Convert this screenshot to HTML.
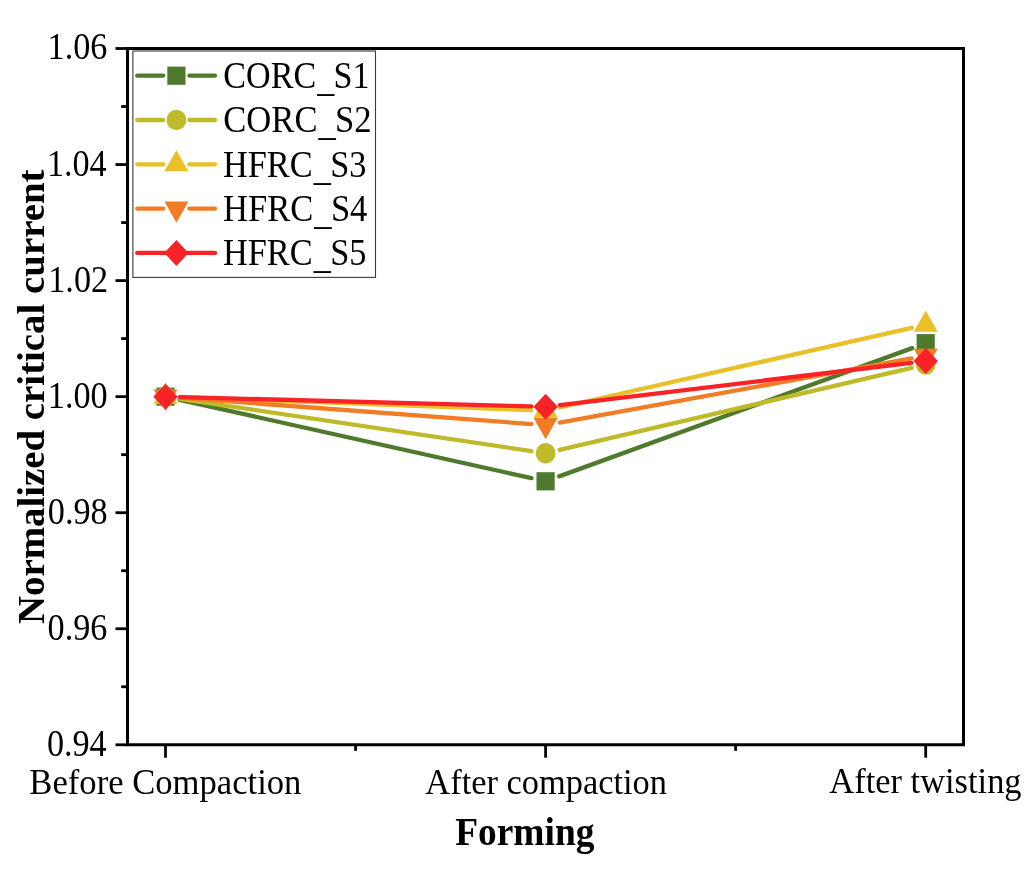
<!DOCTYPE html>
<html><head><meta charset="utf-8"><style>
html,body{margin:0;padding:0;background:#fff;}
svg{display:block;will-change:transform;}
text{font-family:"Liberation Serif",serif;fill:#000;}
</style></head><body>
<svg width="1025" height="881" viewBox="0 0 1025 881">
<rect width="1025" height="881" fill="#fff"/>
<g><line x1="179.56" y1="399.78" x2="531.54" y2="478.17" stroke="#4f7a2d" stroke-width="4.3" stroke-linecap="round"/>
<line x1="559.13" y1="476.38" x2="912.17" y2="348.12" stroke="#4f7a2d" stroke-width="4.3" stroke-linecap="round"/>
<rect x="156.40" y="387.55" width="18.2" height="18.2" fill="#4f7a2d"/>
<rect x="536.50" y="472.20" width="18.2" height="18.2" fill="#4f7a2d"/>
<rect x="916.60" y="334.10" width="18.2" height="18.2" fill="#4f7a2d"/>
<line x1="179.74" y1="398.77" x2="531.36" y2="451.08" stroke="#bfba29" stroke-width="4.3" stroke-linecap="round"/>
<line x1="559.62" y1="449.93" x2="911.68" y2="367.87" stroke="#bfba29" stroke-width="4.3" stroke-linecap="round"/>
<ellipse cx="165.50" cy="396.65" rx="9.9" ry="10.2" fill="#bfba29"/>
<ellipse cx="545.60" cy="453.20" rx="9.9" ry="10.2" fill="#bfba29"/>
<ellipse cx="925.70" cy="364.60" rx="9.9" ry="10.2" fill="#bfba29"/>
<line x1="179.89" y1="397.18" x2="531.21" y2="410.17" stroke="#eac028" stroke-width="4.3" stroke-linecap="round"/>
<line x1="559.64" y1="407.52" x2="911.66" y2="327.78" stroke="#eac028" stroke-width="4.3" stroke-linecap="round"/>
<path d="M165.50,382.52 L177.50,403.72 L153.50,403.72Z" fill="#eac028"/>
<path d="M545.60,396.57 L557.60,417.77 L533.60,417.77Z" fill="#eac028"/>
<path d="M925.70,310.47 L937.70,331.67 L913.70,331.67Z" fill="#eac028"/>
<line x1="179.86" y1="397.72" x2="531.24" y2="424.03" stroke="#f27c26" stroke-width="4.3" stroke-linecap="round"/>
<line x1="559.77" y1="422.52" x2="911.53" y2="358.48" stroke="#f27c26" stroke-width="4.3" stroke-linecap="round"/>
<path d="M165.50,410.78 L177.50,389.58 L153.50,389.58Z" fill="#f27c26"/>
<path d="M545.60,439.23 L557.60,418.03 L533.60,418.03Z" fill="#f27c26"/>
<path d="M925.70,370.03 L937.70,348.83 L913.70,348.83Z" fill="#f27c26"/>
<line x1="179.89" y1="397.03" x2="531.21" y2="406.42" stroke="#f82326" stroke-width="4.3" stroke-linecap="round"/>
<line x1="559.90" y1="405.08" x2="911.40" y2="362.82" stroke="#f82326" stroke-width="4.3" stroke-linecap="round"/>
<path d="M165.50,383.65 L177.70,396.65 L165.50,409.65 L153.30,396.65Z" fill="#f82326"/>
<path d="M545.60,393.80 L557.80,406.80 L545.60,419.80 L533.40,406.80Z" fill="#f82326"/>
<path d="M925.70,348.10 L937.90,361.10 L925.70,374.10 L913.50,361.10Z" fill="#f82326"/></g>
<g><rect x="132.9" y="51.0" width="242.6" height="226.4" fill="#fff" stroke="#3a3a3a" stroke-width="1.1"/>
<line x1="137.25" y1="75.70" x2="163.20" y2="75.70" stroke="#4f7a2d" stroke-width="4.3" stroke-linecap="round"/>
<line x1="189.40" y1="75.70" x2="214.95" y2="75.70" stroke="#4f7a2d" stroke-width="4.3" stroke-linecap="round"/>
<rect x="167.30" y="66.60" width="18.2" height="18.2" fill="#4f7a2d"/>
<line x1="137.25" y1="120.00" x2="163.20" y2="120.00" stroke="#bfba29" stroke-width="4.3" stroke-linecap="round"/>
<line x1="189.40" y1="120.00" x2="214.95" y2="120.00" stroke="#bfba29" stroke-width="4.3" stroke-linecap="round"/>
<ellipse cx="176.40" cy="120.00" rx="9.9" ry="10.2" fill="#bfba29"/>
<line x1="137.25" y1="164.30" x2="163.20" y2="164.30" stroke="#eac028" stroke-width="4.3" stroke-linecap="round"/>
<line x1="189.40" y1="164.30" x2="214.95" y2="164.30" stroke="#eac028" stroke-width="4.3" stroke-linecap="round"/>
<path d="M176.40,150.17 L188.40,171.37 L164.40,171.37Z" fill="#eac028"/>
<line x1="137.25" y1="208.60" x2="163.20" y2="208.60" stroke="#f27c26" stroke-width="4.3" stroke-linecap="round"/>
<line x1="189.40" y1="208.60" x2="214.95" y2="208.60" stroke="#f27c26" stroke-width="4.3" stroke-linecap="round"/>
<path d="M176.40,222.73 L188.40,201.53 L164.40,201.53Z" fill="#f27c26"/>
<line x1="137.25" y1="252.90" x2="214.95" y2="252.90" stroke="#f82326" stroke-width="4.3" stroke-linecap="round"/>
<path d="M176.40,239.90 L188.60,252.90 L176.40,265.90 L164.20,252.90Z" fill="#f82326"/></g>
<g><path d="M127.5,48.5 H963.5 V744.8 H127.5 Z" fill="none" stroke="#000" stroke-width="3" stroke-linejoin="miter"/>
<line x1="115.5" y1="48.50" x2="127.5" y2="48.50" stroke="#000" stroke-width="2.8"/>
<line x1="115.5" y1="164.55" x2="127.5" y2="164.55" stroke="#000" stroke-width="2.8"/>
<line x1="115.5" y1="280.60" x2="127.5" y2="280.60" stroke="#000" stroke-width="2.8"/>
<line x1="115.5" y1="396.65" x2="127.5" y2="396.65" stroke="#000" stroke-width="2.8"/>
<line x1="115.5" y1="512.70" x2="127.5" y2="512.70" stroke="#000" stroke-width="2.8"/>
<line x1="115.5" y1="628.75" x2="127.5" y2="628.75" stroke="#000" stroke-width="2.8"/>
<line x1="115.5" y1="744.80" x2="127.5" y2="744.80" stroke="#000" stroke-width="2.8"/>
<line x1="121.2" y1="106.53" x2="127.5" y2="106.53" stroke="#000" stroke-width="2.8"/>
<line x1="121.2" y1="222.57" x2="127.5" y2="222.57" stroke="#000" stroke-width="2.8"/>
<line x1="121.2" y1="338.62" x2="127.5" y2="338.62" stroke="#000" stroke-width="2.8"/>
<line x1="121.2" y1="454.67" x2="127.5" y2="454.67" stroke="#000" stroke-width="2.8"/>
<line x1="121.2" y1="570.73" x2="127.5" y2="570.73" stroke="#000" stroke-width="2.8"/>
<line x1="121.2" y1="686.77" x2="127.5" y2="686.77" stroke="#000" stroke-width="2.8"/>
<line x1="165.5" y1="744.8" x2="165.5" y2="757.7" stroke="#000" stroke-width="2.8"/>
<line x1="545.6" y1="744.8" x2="545.6" y2="757.7" stroke="#000" stroke-width="2.8"/>
<line x1="925.7" y1="744.8" x2="925.7" y2="757.7" stroke="#000" stroke-width="2.8"/>
<line x1="355.55" y1="744.8" x2="355.55" y2="750.8" stroke="#000" stroke-width="2.8"/>
<line x1="735.6500000000001" y1="744.8" x2="735.6500000000001" y2="750.8" stroke="#000" stroke-width="2.8"/></g>
<g><text transform="translate(47.59,59.45) scale(0.9041,1)" font-size="37.8">1.06</text>
<text transform="translate(46.91,175.50) scale(0.9041,1)" font-size="37.8">1.04</text>
<text transform="translate(48.26,291.55) scale(0.9041,1)" font-size="37.8">1.02</text>
<text transform="translate(47.81,407.60) scale(0.9041,1)" font-size="37.8">1.00</text>
<text transform="translate(47.81,523.65) scale(0.9041,1)" font-size="37.8">0.98</text>
<text transform="translate(47.59,639.70) scale(0.9041,1)" font-size="37.8">0.96</text>
<text transform="translate(46.91,755.75) scale(0.9041,1)" font-size="37.8">0.94</text>
<text transform="translate(29.35,793.60) scale(0.9511,1)" font-weight="normal" font-size="36.4">Before Compaction</text>
<text transform="translate(425.36,793.60) scale(0.9451,1)" font-weight="normal" font-size="36.4">After compaction</text>
<text transform="translate(829.36,793.40) scale(0.9464,1)" font-weight="normal" font-size="36.4">After twisting</text>
<text transform="translate(223.32,88.00) scale(0.9215,1)" font-weight="normal" font-size="37.0">CORC<tspan dx="1.2" dy="2.9">_</tspan><tspan dx="-0.8" dy="-2.9">S1</tspan></text>
<text transform="translate(223.30,132.30) scale(0.9348,1)" font-weight="normal" font-size="37.0">CORC<tspan dx="1.2" dy="2.9">_</tspan><tspan dx="-0.8" dy="-2.9">S2</tspan></text>
<text transform="translate(222.97,176.60) scale(0.9283,1)" font-weight="normal" font-size="37.0">HFRC<tspan dx="1.2" dy="2.9">_</tspan><tspan dx="-0.8" dy="-2.9">S3</tspan></text>
<text transform="translate(222.97,220.90) scale(0.9342,1)" font-weight="normal" font-size="37.0">HFRC<tspan dx="1.2" dy="2.9">_</tspan><tspan dx="-0.8" dy="-2.9">S4</tspan></text>
<text transform="translate(222.97,265.20) scale(0.9283,1)" font-weight="normal" font-size="37.0">HFRC<tspan dx="1.2" dy="2.9">_</tspan><tspan dx="-0.8" dy="-2.9">S5</tspan></text>
<text transform="translate(455.13,844.80) scale(0.9477,1)" font-weight="bold" font-size="39.5">Forming</text>
<text transform="translate(43.8,624.11) rotate(-90) scale(1.0147,1)" font-weight="bold" font-size="38.3">Normalized critical current</text></g>
</svg>
</body></html>
